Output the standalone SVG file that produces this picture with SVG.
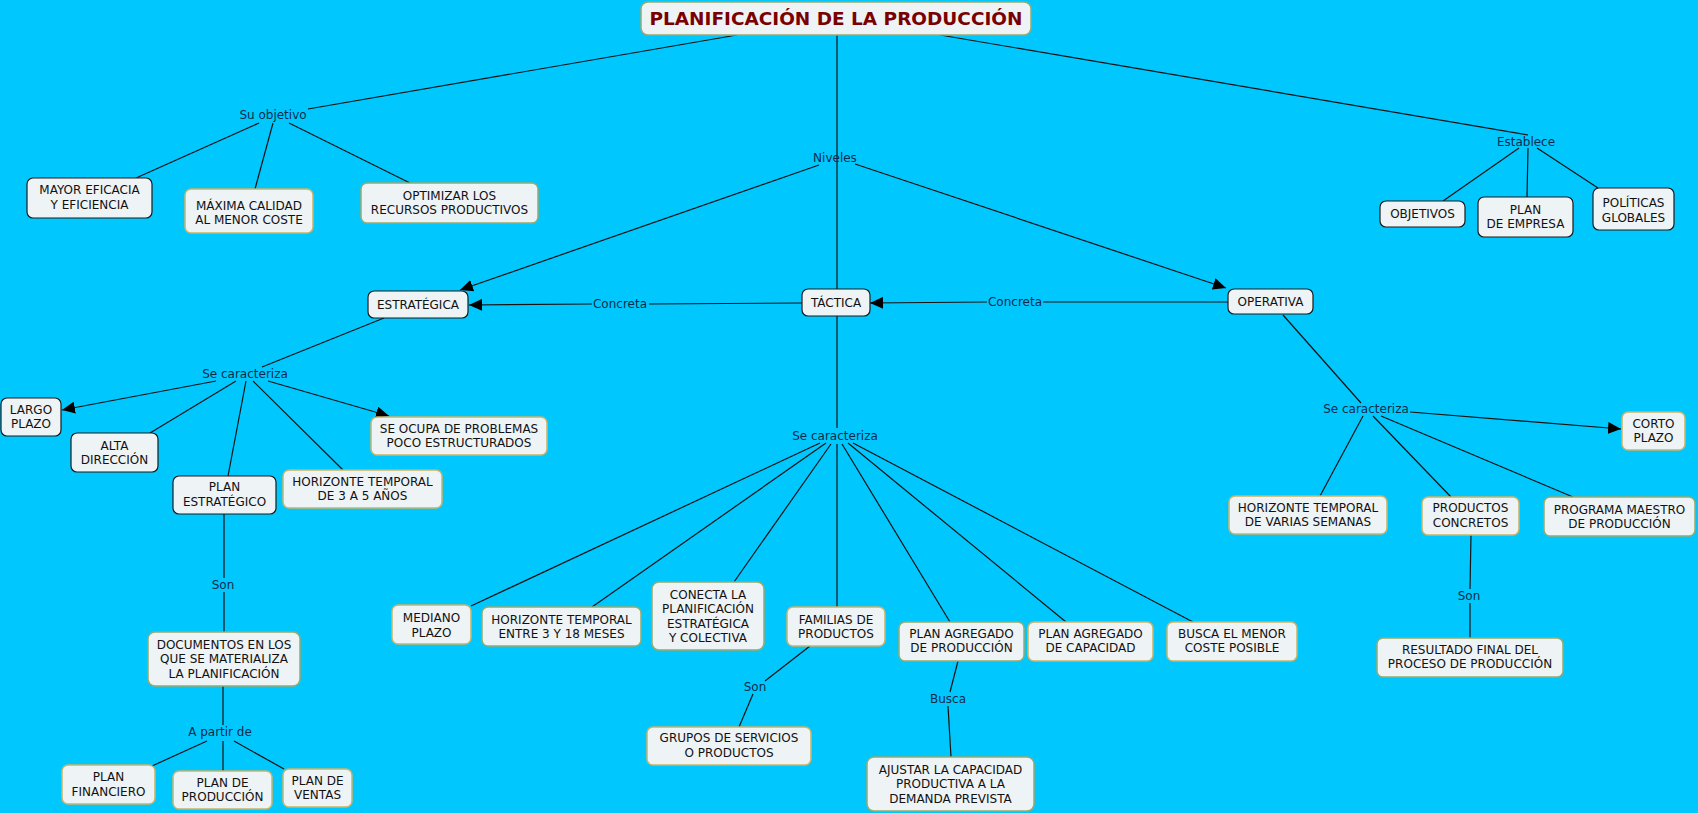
<svg xmlns="http://www.w3.org/2000/svg" width="1698" height="813" viewBox="0 0 1698 813">
<style>
.bg{fill:#00c8ff}
rect.d{fill:#eef3f5;stroke:#1a1a1a;stroke-width:1.2}
rect.g{fill:#eef3f5;stroke:#c8b46a;stroke-width:1.5}
rect.v{fill:#eef3f5;stroke:#96aa72;stroke-width:1.5}
text{font-family:"DejaVu Sans","Verdana",sans-serif;font-size:12px;text-anchor:middle}
.t{fill:#111}
.l{fill:#0b2c4a}
.title{font-weight:bold;font-size:18px;fill:#7a0000}
#connectors line{stroke:#111;stroke-width:1.2}
</style>
<defs>
<marker id="ah" markerUnits="userSpaceOnUse" markerWidth="14" markerHeight="12" refX="13" refY="6" orient="auto">
<path d="M0,0 L13,6 L0,12 z" fill="#000"/>
</marker>
</defs>
<rect class="bg" x="0" y="0" width="1698" height="813"/>
<g id="connectors">
<line x1="737" y1="35" x2="308" y2="109"/>
<line x1="259" y1="123" x2="136" y2="178"/>
<line x1="273" y1="123" x2="255" y2="189"/>
<line x1="289" y1="123" x2="410" y2="183"/>
<line x1="940" y1="35" x2="1528" y2="135"/>
<line x1="1519" y1="148" x2="1443" y2="201"/>
<line x1="1528" y1="148" x2="1527" y2="197"/>
<line x1="1537" y1="148" x2="1598" y2="188"/>
<line x1="837" y1="35" x2="837" y2="289"/>
<line x1="819" y1="165" x2="460" y2="290" marker-end="url(#ah)"/>
<line x1="855" y1="164" x2="1226" y2="288" marker-end="url(#ah)"/>
<line x1="1228" y1="302" x2="1043" y2="302"/>
<line x1="987" y1="302" x2="870" y2="303" marker-end="url(#ah)"/>
<line x1="802" y1="303" x2="649" y2="304"/>
<line x1="592" y1="304" x2="469" y2="305" marker-end="url(#ah)"/>
<line x1="384" y1="318" x2="262" y2="367"/>
<line x1="216" y1="381" x2="62" y2="410" marker-end="url(#ah)"/>
<line x1="236" y1="381" x2="150" y2="433"/>
<line x1="246" y1="381" x2="228" y2="476"/>
<line x1="253" y1="381" x2="343" y2="470"/>
<line x1="268" y1="381" x2="389" y2="416" marker-end="url(#ah)"/>
<line x1="224" y1="514" x2="224" y2="578"/>
<line x1="224" y1="592" x2="224" y2="632"/>
<line x1="223" y1="686" x2="223" y2="725"/>
<line x1="207" y1="741" x2="152" y2="766"/>
<line x1="223" y1="741" x2="223" y2="771"/>
<line x1="234" y1="741" x2="284" y2="769"/>
<line x1="837" y1="316" x2="837" y2="428"/>
<line x1="820" y1="443" x2="471" y2="606"/>
<line x1="826" y1="443" x2="592" y2="607"/>
<line x1="831" y1="444" x2="734" y2="582"/>
<line x1="837" y1="444" x2="837" y2="607"/>
<line x1="842" y1="444" x2="950" y2="622"/>
<line x1="848" y1="443" x2="1066" y2="622"/>
<line x1="853" y1="443" x2="1193" y2="622"/>
<line x1="810" y1="646" x2="765" y2="681"/>
<line x1="753" y1="694" x2="739" y2="727"/>
<line x1="958" y1="661" x2="950" y2="692"/>
<line x1="948" y1="706" x2="951" y2="757"/>
<line x1="1283" y1="315" x2="1361" y2="403"/>
<line x1="1410" y1="412" x2="1621" y2="429" marker-end="url(#ah)"/>
<line x1="1363" y1="416" x2="1320" y2="496"/>
<line x1="1373" y1="416" x2="1451" y2="497"/>
<line x1="1381" y1="416" x2="1573" y2="497"/>
<line x1="1471" y1="535" x2="1470" y2="589"/>
<line x1="1470" y1="603" x2="1470" y2="638"/>
</g>
<g id="labels">
<text class="l" x="273" y="119">Su objetivo</text>
<text class="l" x="1526" y="146">Establece</text>
<text class="l" x="835" y="162">Niveles</text>
<text class="l" x="620" y="308">Concreta</text>
<text class="l" x="1015" y="306">Concreta</text>
<text class="l" x="245" y="378">Se caracteriza</text>
<text class="l" x="835" y="440">Se caracteriza</text>
<text class="l" x="1366" y="413">Se caracteriza</text>
<text class="l" x="223" y="589">Son</text>
<text class="l" x="220" y="736">A partir de</text>
<text class="l" x="755" y="691">Son</text>
<text class="l" x="948" y="703">Busca</text>
<text class="l" x="1469" y="600">Son</text>
</g>
<g id="n-title"><rect class="v" x="641" y="2" width="390" height="33" rx="7"/><text class="title" x="836" y="25" textLength="373" lengthAdjust="spacingAndGlyphs">PLANIFICACIÓN DE LA PRODUCCIÓN</text></g>
<g id="n-mayor"><rect class="d" x="27" y="178" width="125" height="40" rx="6"/><text class="t" x="89.5" y="194">MAYOR EFICACIA</text><text class="t" x="89.5" y="209">Y EFICIENCIA</text></g>
<g id="n-maxima"><rect class="g" x="185" y="189" width="128" height="44" rx="6"/><text class="t" x="249" y="210">MÁXIMA CALIDAD</text><text class="t" x="249" y="224">AL MENOR COSTE</text></g>
<g id="n-optimizar"><rect class="v" x="361" y="183" width="177" height="40" rx="6"/><text class="t" x="449.5" y="200">OPTIMIZAR LOS</text><text class="t" x="449.5" y="214">RECURSOS PRODUCTIVOS</text></g>
<g id="n-objetivos"><rect class="d" x="1380" y="201" width="85" height="26" rx="6"/><text class="t" x="1422.5" y="218">OBJETIVOS</text></g>
<g id="n-planempresa"><rect class="d" x="1478" y="197" width="95" height="40" rx="6"/><text class="t" x="1525.5" y="214">PLAN</text><text class="t" x="1525.5" y="228">DE EMPRESA</text></g>
<g id="n-politicas"><rect class="d" x="1593" y="188" width="81" height="42" rx="6"/><text class="t" x="1633.5" y="207">POLÍTICAS</text><text class="t" x="1633.5" y="222">GLOBALES</text></g>
<g id="n-estrategica"><rect class="d" x="368" y="291" width="100" height="27" rx="6"/><text class="t" x="418" y="309">ESTRATÉGICA</text></g>
<g id="n-tactica"><rect class="d" x="802" y="289" width="68" height="27" rx="6"/><text class="t" x="836" y="307">TÁCTICA</text></g>
<g id="n-operativa"><rect class="d" x="1228" y="289" width="85" height="25" rx="6"/><text class="t" x="1270.5" y="306">OPERATIVA</text></g>
<g id="n-largo"><rect class="d" x="1" y="398" width="60" height="38" rx="6"/><text class="t" x="31" y="414">LARGO</text><text class="t" x="31" y="428">PLAZO</text></g>
<g id="n-alta"><rect class="d" x="71" y="433" width="87" height="39" rx="6"/><text class="t" x="114.5" y="450">ALTA</text><text class="t" x="114.5" y="464">DIRECCIÓN</text></g>
<g id="n-planest"><rect class="d" x="173" y="476" width="103" height="38" rx="6"/><text class="t" x="224.5" y="491">PLAN</text><text class="t" x="224.5" y="506">ESTRATÉGICO</text></g>
<g id="n-horiz35"><rect class="g" x="283" y="470" width="159" height="38" rx="6"/><text class="t" x="362.5" y="486">HORIZONTE TEMPORAL</text><text class="t" x="362.5" y="500">DE 3 A 5 AÑOS</text></g>
<g id="n-seocupa"><rect class="g" x="371" y="417" width="176" height="38" rx="6"/><text class="t" x="459" y="433">SE OCUPA DE PROBLEMAS</text><text class="t" x="459" y="447">POCO ESTRUCTURADOS</text></g>
<g id="n-corto"><rect class="g" x="1622" y="412" width="63" height="38" rx="6"/><text class="t" x="1653.5" y="428">CORTO</text><text class="t" x="1653.5" y="442">PLAZO</text></g>
<g id="n-horizsem"><rect class="g" x="1229" y="496" width="158" height="38" rx="6"/><text class="t" x="1308" y="512">HORIZONTE TEMPORAL</text><text class="t" x="1308" y="526">DE VARIAS SEMANAS</text></g>
<g id="n-prodconc"><rect class="g" x="1422" y="497" width="97" height="38" rx="6"/><text class="t" x="1470.5" y="512">PRODUCTOS</text><text class="t" x="1470.5" y="527">CONCRETOS</text></g>
<g id="n-programa"><rect class="v" x="1544" y="497" width="151" height="39" rx="6"/><text class="t" x="1619.5" y="514">PROGRAMA MAESTRO</text><text class="t" x="1619.5" y="528">DE PRODUCCIÓN</text></g>
<g id="n-resultado"><rect class="v" x="1377" y="638" width="186" height="39" rx="6"/><text class="t" x="1470" y="654">RESULTADO FINAL DEL</text><text class="t" x="1470" y="668">PROCESO DE PRODUCCIÓN</text></g>
<g id="n-mediano"><rect class="g" x="392" y="605" width="79" height="39" rx="6"/><text class="t" x="431.5" y="622">MEDIANO</text><text class="t" x="431.5" y="637">PLAZO</text></g>
<g id="n-horiz318"><rect class="v" x="482" y="607" width="159" height="39" rx="6"/><text class="t" x="561.5" y="624">HORIZONTE TEMPORAL</text><text class="t" x="561.5" y="638">ENTRE 3 Y 18 MESES</text></g>
<g id="n-conecta"><rect class="v" x="652" y="582" width="112" height="68" rx="7"/><text class="t" x="708" y="599">CONECTA LA</text><text class="t" x="708" y="613">PLANIFICACIÓN</text><text class="t" x="708" y="628">ESTRATÉGICA</text><text class="t" x="708" y="642">Y COLECTIVA</text></g>
<g id="n-familias"><rect class="g" x="787" y="607" width="98" height="39" rx="6"/><text class="t" x="836" y="624">FAMILIAS DE</text><text class="t" x="836" y="638">PRODUCTOS</text></g>
<g id="n-pap"><rect class="v" x="899" y="622" width="125" height="39" rx="6"/><text class="t" x="961.5" y="638">PLAN AGREGADO</text><text class="t" x="961.5" y="652">DE PRODUCCIÓN</text></g>
<g id="n-pac"><rect class="g" x="1028" y="622" width="125" height="39" rx="6"/><text class="t" x="1090.5" y="638">PLAN AGREGADO</text><text class="t" x="1090.5" y="652">DE CAPACIDAD</text></g>
<g id="n-busca"><rect class="g" x="1167" y="622" width="130" height="39" rx="6"/><text class="t" x="1232" y="638">BUSCA EL MENOR</text><text class="t" x="1232" y="652">COSTE POSIBLE</text></g>
<g id="n-grupos"><rect class="g" x="647" y="727" width="164" height="38" rx="6"/><text class="t" x="729" y="742">GRUPOS DE SERVICIOS</text><text class="t" x="729" y="757">O PRODUCTOS</text></g>
<g id="n-ajustar"><rect class="v" x="867" y="757" width="167" height="54" rx="7"/><text class="t" x="950.5" y="774">AJUSTAR LA CAPACIDAD</text><text class="t" x="950.5" y="788">PRODUCTIVA A LA</text><text class="t" x="950.5" y="803">DEMANDA PREVISTA</text></g>
<g id="n-documentos"><rect class="v" x="148" y="632" width="152" height="54" rx="7"/><text class="t" x="224" y="649">DOCUMENTOS EN LOS</text><text class="t" x="224" y="663">QUE SE MATERIALIZA</text><text class="t" x="224" y="678">LA PLANIFICACIÓN</text></g>
<g id="n-planfin"><rect class="g" x="62" y="765" width="93" height="39" rx="6"/><text class="t" x="108.5" y="781">PLAN</text><text class="t" x="108.5" y="796">FINANCIERO</text></g>
<g id="n-planprod"><rect class="g" x="173" y="771" width="99" height="38" rx="6"/><text class="t" x="222.5" y="787">PLAN DE</text><text class="t" x="222.5" y="801">PRODUCCIÓN</text></g>
<g id="n-planventas"><rect class="g" x="283" y="769" width="69" height="38" rx="6"/><text class="t" x="317.5" y="785">PLAN DE</text><text class="t" x="317.5" y="799">VENTAS</text></g>
</svg>
